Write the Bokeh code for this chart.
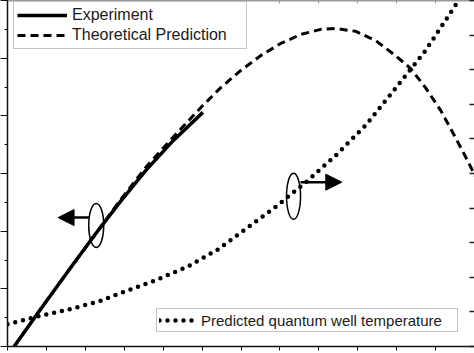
from bokeh.plotting import figure
from bokeh.models import (Range1d, LinearAxis, SingleIntervalTicker, Legend, LegendItem,
                          Arrow, NormalHead, CustomJSTickFormatter)
from bokeh.embed import file_html
from bokeh.resources import INLINE

# ---- data (arbitrary units) ----
exp_x = [0.17, 0.86, 1.63, 2.27, 2.91, 3.55, 4.25, 5.02]
exp_y = [0.00, 1.31, 2.75, 3.92, 5.04, 6.10, 7.13, 8.12]

theo_x = [0.17, 0.86, 1.63, 2.27, 2.91, 3.55, 4.25, 4.97, 5.48, 5.99, 6.51, 7.02,
          7.53, 8.05, 8.43, 8.95, 9.46, 9.97, 10.36, 10.74, 11.13, 11.51, 11.82, 12.05]
theo_y = [0.00, 1.32, 2.74, 3.92, 5.10, 6.21, 7.25, 8.29, 8.98, 9.57, 10.09, 10.51,
          10.82, 11.00, 11.03, 10.93, 10.61, 10.09, 9.64, 8.98, 8.19, 7.25, 6.45, 5.83]

qw_x = [0.00, 0.78, 1.57, 2.34, 3.09, 3.86, 4.63, 5.40, 6.17, 6.94, 7.69, 8.46,
        9.20, 9.99, 10.74, 11.51, 11.69]
qw_t = [0.64, 0.87, 1.07, 1.30, 1.62, 1.94, 2.31, 2.80, 3.44, 4.08, 4.77, 5.55,
        6.39, 7.49, 8.55, 9.86, 10.17]

labels = ["Experiment", "Theoretical Prediction", "Predicted quantum well temperature"]

# annotation markers (data units)
ell_left = (2.28, 4.20)
arrow_left = (2.09, 1.30, 4.47)      # x_start, x_end, y
ell_right = (7.35, 4.34)
arrow_right = (7.53, 8.59, 4.75)     # x_start, x_end, y (right axis)

FONT = "Liberation Sans"

p = figure(width=474, height=353, output_backend="svg", toolbar_location=None,
           x_range=Range1d(0, 12), y_range=Range1d(0, 12),
           min_border_left=7, min_border_right=0, min_border_top=0, min_border_bottom=7,
           background_fill_color="white", border_fill_color="white")
p.outline_line_color = None
p.grid.visible = False
p.extra_y_ranges = {"right": Range1d(0, 10)}

empty = CustomJSTickFormatter(code="return ''")

# bottom axis
xa = p.xaxis[0]
xa.ticker = SingleIntervalTicker(interval=1, num_minor_ticks=0)
xa.formatter = empty
xa.major_label_text_font_size = "0px"
xa.major_label_standoff = 0
xa.major_tick_out = 4
xa.major_tick_in = 0
xa.minor_tick_out = 0
xa.axis_line_width = 1.5
xa.axis_line_color = "#111111"
xa.major_tick_line_color = "#111111"

# left axis
ya = p.yaxis[0]
ya.ticker = SingleIntervalTicker(interval=2, num_minor_ticks=2)
ya.formatter = empty
ya.major_label_text_font_size = "0px"
ya.major_label_standoff = 0
ya.major_tick_out = 7
ya.major_tick_in = 0
ya.minor_tick_out = 3
ya.minor_tick_in = 0
ya.axis_line_width = 1.5
ya.axis_line_color = "#111111"
ya.major_tick_line_color = "#111111"
ya.minor_tick_line_color = "#111111"

# right axis
ra = LinearAxis(y_range_name="right", ticker=SingleIntervalTicker(interval=1, num_minor_ticks=0),
                formatter=empty, major_label_text_font_size="0px", major_label_standoff=0,
                major_tick_in=5, major_tick_out=0, minor_tick_in=0, minor_tick_out=0,
                axis_line_color=None, major_tick_line_color="#222222", major_tick_line_width=1.5)
p.add_layout(ra, "right")

# top axis
ta = LinearAxis(ticker=SingleIntervalTicker(interval=1, num_minor_ticks=0),
                formatter=empty, major_label_text_font_size="0px", major_label_standoff=0,
                major_tick_in=3, major_tick_out=0, minor_tick_in=0, minor_tick_out=0,
                axis_line_color="#9a9a9a", axis_line_width=2, major_tick_line_color="#9a9a9a")
p.add_layout(ta, "above")

# curves
r_qw = p.line(qw_x, qw_t, y_range_name="right", line_color="black", line_width=4.5,
              line_dash="0 8", line_cap="round", line_join="round")
r_theo = p.line(theo_x, theo_y, line_color="black", line_width=3, line_dash="8 5",
                line_join="round")
r_exp = p.line(exp_x, exp_y, line_color="black", line_width=3.5, line_join="round")

# ellipses and arrows
p.ellipse(x=[ell_left[0]], y=[ell_left[1]], width=15, height=44,
          width_units="screen", height_units="screen",
          fill_color=None, line_color="black", line_width=1.5)
p.ellipse(x=[ell_right[0]], y=[ell_right[1]], width=14, height=46,
          width_units="screen", height_units="screen", y_range_name="right",
          fill_color=None, line_color="black", line_width=1.5)
p.add_layout(Arrow(end=NormalHead(size=16, fill_color="black", line_color="black"),
                   x_start=arrow_left[0], x_end=arrow_left[1],
                   y_start=arrow_left[2], y_end=arrow_left[2],
                   line_color="black", line_width=2.5))
p.add_layout(Arrow(end=NormalHead(size=16, fill_color="black", line_color="black"),
                   x_start=arrow_right[0], x_end=arrow_right[1],
                   y_start=arrow_right[2], y_end=arrow_right[2], y_range_name="right",
                   line_color="black", line_width=2.5))

# legends
leg1 = Legend(items=[LegendItem(label=labels[0], renderers=[r_exp]),
                     LegendItem(label=labels[1], renderers=[r_theo])],
              location=(6, 297), orientation="vertical",
              padding=3, spacing=0, margin=0,
              glyph_width=50, glyph_height=20, label_height=20, label_width=171,
              label_standoff=5, label_text_font=FONT, label_text_font_size="16px",
              label_text_color="#1a1a1a",
              border_line_color="#8c8c8c", border_line_width=1,
              background_fill_color="white", background_fill_alpha=1)
leg2 = Legend(items=[LegendItem(label=labels[2], renderers=[r_qw])],
              location=(149, 14), orientation="vertical",
              padding=2, spacing=0, margin=0,
              glyph_width=35, glyph_height=18, label_height=18, label_width=254,
              label_standoff=7, label_text_font=FONT, label_text_font_size="15px",
              label_text_color="#1a1a1a",
              border_line_color="#8c8c8c", border_line_width=1,
              background_fill_color="white", background_fill_alpha=1)
p.add_layout(leg1, "center")
p.add_layout(leg2, "center")

open("out.html", "w").write(file_html(p, INLINE))
